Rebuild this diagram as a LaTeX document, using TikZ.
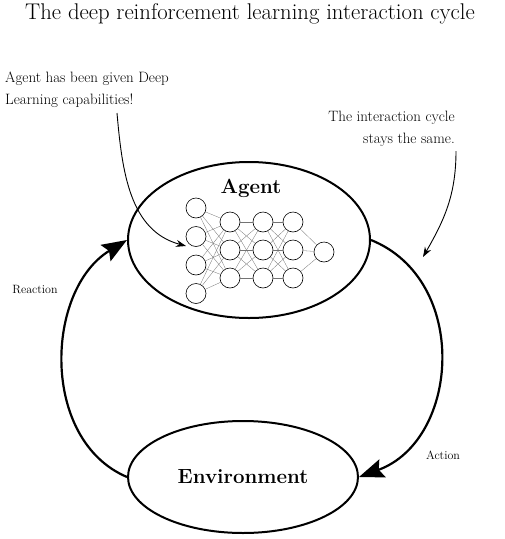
\documentclass[tikz,border=0pt]{standalone}
\usepackage{fontspec}
\usetikzlibrary{positioning, shapes.geometric, arrows.meta, calc}

\begin{document}
\begin{tikzpicture}[x=1pt, y=-1pt,
    neuron/.style={circle, draw, line width=0.6pt, minimum size=20pt, inner sep=0pt},
    link/.style={draw=black!55, line width=0.3pt},
    bubble/.style={ellipse, draw, line width=2pt, inner sep=0pt},
    cyc/.style={line width=2.2pt, -{Stealth[length=25pt, width=19pt, inset=4pt]}},
    note/.style={line width=0.9pt, -{Stealth[length=10pt, width=7pt]}},
    txt/.style={inner sep=0pt, font=\fontsize{15}{22}\selectfont}]
                  \useasboundingbox (0,0) rectangle (505,539);

                  % Title
                  \node[inner sep=0pt, font=\fontsize{22.7}{26}\selectfont] (title) at (250,14) {The deep reinforcement learning interaction cycle};

                  % Nodes
                  \node[bubble, minimum width=242pt, minimum height=156pt] (agent) at (249,240) {};
                  \node[font=\bfseries\fontsize{20.5}{24}\selectfont] (agentname) at (251,188) {Agent};
                  \node[bubble, minimum width=230pt, minimum height=112pt, font=\bfseries\fontsize{20.5}{24}\selectfont] (env) at (243,477) {Environment};

                  % Network inside the agent
                  \foreach \i in {1,2,3,4}
                  \node[neuron] (in\i) at (196,{208+28.5*(\i-1)}) {};
                  \foreach \l/\x in {1/230,2/263,3/293}
                  \foreach \j in {1,2,3}
                  \node[neuron] (h\l\j) at (\x,{222+28*(\j-1)}) {};
                  \node[neuron] (out) at (324,252) {};

                  \foreach \i in {1,2,3,4}
                  \foreach \j in {1,2,3}
                  \draw[link] (in\i) -- (h1\j);
                  \foreach \l/\m in {1/2,2/3}
                  \foreach \i in {1,2,3}
                  \foreach \j in {1,2,3}
                  \draw[link] (h\l\i) -- (h\m\j);
                  \foreach \j in {1,2,3}
                  \draw[link] (h3\j) -- (out);

                  % Notes
                  \node[txt, anchor=west, align=left] (givennote) at (5,90) {Agent has been given Deep\\Learning capabilities!};
                  \node[txt, anchor=east, align=right] (samenote) at (455,129) {The interaction cycle\\stays the same.};
                  \coordinate (givenstart) at (117,113);
                  \coordinate (givenend) at (186,246);
                  \coordinate (samestart) at (456,151);
                  \coordinate (sameend) at (423,257);

                  % Arrows
                  \draw[note] (givenstart) to[out=-85,in=165] (givenend);
                  \draw[note] (samestart) to[out=-90,in=60] (sameend);
                  \draw[cyc] (env.west) .. controls (40,440) and (45,290) .. (agent.west);
                  \draw[cyc] (agent.east) .. controls (470,280) and (460,440) .. (env.east);

                  \node[font=\fontsize{12}{14}\selectfont] (reaction) at (35,290) {Reaction};
                  \node[font=\fontsize{12}{14}\selectfont] (action) at (443,455) {Action};
              \end{tikzpicture}
\end{document}
